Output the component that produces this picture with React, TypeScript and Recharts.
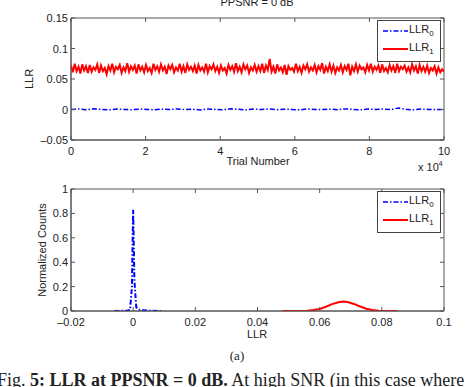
import { LineChart, Line, XAxis, YAxis, Legend, ReferenceArea } from "recharts";

const llr1Trace = [
  0.072, 0.061, 0.075, 0.063, 0.07, 0.059, 0.074, 0.064, 0.071, 0.06,
  0.073, 0.062, 0.069, 0.065, 0.074, 0.06, 0.072, 0.063, 0.068, 0.058,
  0.071, 0.064, 0.075, 0.061, 0.07, 0.066, 0.073, 0.06, 0.069, 0.063,
  0.076, 0.062, 0.071, 0.065, 0.072, 0.059, 0.074, 0.064, 0.07, 0.061,
  0.073, 0.063, 0.068, 0.06, 0.075, 0.065, 0.071, 0.062, 0.074, 0.064,
  0.07, 0.058, 0.072, 0.066, 0.073, 0.061, 0.069, 0.064, 0.075, 0.062,
  0.071, 0.06, 0.074, 0.065, 0.07, 0.063, 0.072, 0.059, 0.073, 0.064,
  0.069, 0.062, 0.075, 0.061, 0.071, 0.066, 0.074, 0.063, 0.07, 0.06,
  0.072, 0.064, 0.068, 0.059, 0.073, 0.065, 0.071, 0.062, 0.076, 0.063,
  0.07, 0.061, 0.074, 0.066, 0.072, 0.06, 0.069, 0.064, 0.073, 0.062,
  0.071, 0.063, 0.075, 0.06, 0.072, 0.065, 0.083, 0.062, 0.07, 0.059,
  0.074, 0.064, 0.069, 0.061, 0.073, 0.057, 0.071, 0.065, 0.068, 0.062,
  0.075, 0.063, 0.07, 0.06, 0.072, 0.066, 0.074, 0.062, 0.069, 0.064,
  0.073, 0.061, 0.071, 0.065, 0.076, 0.059, 0.07, 0.063, 0.074, 0.062,
  0.072, 0.06, 0.069, 0.064, 0.073, 0.061, 0.071, 0.065, 0.075, 0.056,
  0.07, 0.063, 0.074, 0.062, 0.072, 0.066, 0.069, 0.061, 0.073, 0.064,
  0.075, 0.062, 0.07, 0.065, 0.072, 0.06, 0.074, 0.063, 0.068, 0.061,
  0.073, 0.064, 0.071, 0.06, 0.075, 0.063, 0.07, 0.066, 0.072, 0.062,
  0.069, 0.061, 0.074, 0.064, 0.071, 0.059, 0.073, 0.063, 0.07, 0.062,
  0.072, 0.06, 0.068, 0.064, 0.071, 0.059, 0.069, 0.061, 0.066, 0.062,
];

const llr0Trace = [
  0, 0.0008, -0.0004, 0.0012, 0.0002, -0.0006, 0.0009, 0.0001, -0.0003, 0.0007,
  0.0002, -0.0005, 0.0006, 0, 0.001, -0.0002, 0.0004, -0.0007, 0.0008, 0.0001,
  -0.0004, 0.0011, 0.0003, -0.0005, 0.0007, 0, 0.0009, -0.0003, 0.0005, 0.0002,
  -0.0006, 0.0008, 0.0001, -0.0002, 0.0006, -0.0004, 0.001, 0.0003, -0.0005, 0.0007,
  0.0002, 0.0009, -0.0003, 0.0025, 0.0004, -0.0006, 0.0008, 0.0001, -0.0002, 0.0003,
];

const trialTicks = [0, 20000, 40000, 60000, 80000, 100000];
const llrTicks = [-0.05, 0, 0.05, 0.1, 0.15];

// bottom panel: histograms of the two LLRs
const llr0Bins = [-0.006, -0.004, -0.002, -0.001, -0.0004, 0, 0.0004, 0.001, 0.002, 0.004, 0.006, 0.009];
const llr0Counts = [0, 0.001, 0.002, 0.008, 0.2, 0.83, 0.25, 0.03, 0.01, 0.004, 0.002, 0];
const llr1Bins = [0.048, 0.052, 0.056, 0.058, 0.06, 0.062, 0.064, 0.066, 0.0675, 0.069, 0.071, 0.073, 0.075, 0.077, 0.079, 0.082, 0.085];
const llr1Counts = [0, 0.0005, 0.003, 0.008, 0.017, 0.035, 0.056, 0.072, 0.078, 0.073, 0.058, 0.037, 0.019, 0.008, 0.003, 0.001, 0];

const histXTicks = [-0.02, 0, 0.02, 0.04, 0.06, 0.08, 0.1];
const histYTicks = [0, 0.2, 0.4, 0.6, 0.8, 1];

const topStep = 100000 / (llr1Trace.length - 1);
const blueStep = 100000 / (llr0Trace.length - 1);
const llr1Data = llr1Trace.map((v, i) => ({ x: i * topStep, v }));
const llr0Data = llr0Trace.map((v, i) => ({ x: i * blueStep, v }));
const hist0 = llr0Bins.map((x, i) => ({ x, v: llr0Counts[i] }));
const hist1 = llr1Bins.map((x, i) => ({ x, v: llr1Counts[i] }));

const FONT = "'Liberation Sans', Arial, sans-serif";
const AXIS = "#555";
const PLOT_W = 373;
const PLOT_H = 122;

const fmt = (v: number) => (v === 0 ? "0" : v < 0 ? "\u2013" + String(-v) : String(v));

function XTick(props: any) {
  const { x, y, payload, labels } = props;
  const base = y - 6;
  const label = labels ? labels(payload.value) : fmt(payload.value);
  return (
    <g>
      <line x1={x} y1={base} x2={x} y2={base - 4} stroke={AXIS} />
      <line x1={x} y1={base - PLOT_H} x2={x} y2={base - PLOT_H + 4} stroke={AXIS} />
      <text x={x} y={base + 15} textAnchor="middle" fontSize={11} fontFamily={FONT} fill="#222">
        {label}
      </text>
    </g>
  );
}

function YTick(props: any) {
  const { x, y, payload } = props;
  const left = x + 3;
  return (
    <g>
      <line x1={left} y1={y} x2={left + 4} y2={y} stroke={AXIS} />
      <line x1={left + PLOT_W} y1={y} x2={left + PLOT_W - 4} y2={y} stroke={AXIS} />
      <text x={x} y={y + 4} textAnchor="end" fontSize={11} fontFamily={FONT} fill="#222">
        {fmt(payload.value)}
      </text>
    </g>
  );
}

function LegendBox() {
  const row = (top: number, color: string, dash: string | undefined, sub: string) => (
    <div style={{ position: "absolute", left: 5, top, height: 14, display: "flex", alignItems: "center" }}>
      <svg width={25} height={6}>
        <line x1={0} y1={3} x2={25} y2={3} stroke={color} strokeWidth={dash ? 1.5 : 2} strokeDasharray={dash} />
      </svg>
      <span style={{ fontSize: 11, fontFamily: FONT, color: "#222", marginLeft: 1 }}>
        LLR<sub style={{ fontSize: 8 }}>{sub}</sub>
      </span>
    </div>
  );
  return (
    <div style={{ position: "relative", width: 62, height: 40, border: "1px solid #444", background: "#fff" }}>
      {row(3, "#0000ff", "5 2 1.5 2", "0")}
      {row(21, "#ff0000", undefined, "1")}
    </div>
  );
}

const abs = (left: number, top: number, extra: any = {}) => ({
  position: "absolute" as const,
  left,
  top,
  fontFamily: FONT,
  fontSize: 11,
  color: "#222",
  whiteSpace: "nowrap" as const,
  ...extra,
});

export default function App() {
  return (
    <div style={{ position: "absolute", left: 0, top: 0, width: 474, height: 387, overflow: "hidden", background: "#fff" }}>
      <div style={{ position: "absolute", left: 0, top: 0 }}>
        <LineChart width={474} height={175} margin={{ top: 18, right: 30, bottom: 0, left: 0 }}>
          <XAxis
            dataKey="x"
            type="number"
            domain={[0, 100000]}
            ticks={trialTicks}
            tickLine={false}
            tickSize={0}
            tickMargin={6}
            height={35}
            stroke={AXIS}
            tick={<XTick labels={(v: number) => String(v / 10000)} />}
            allowDataOverflow
          />
          <YAxis
            type="number"
            domain={[-0.05, 0.15]}
            ticks={llrTicks}
            tickLine={false}
            tickSize={0}
            tickMargin={3}
            width={71}
            stroke={AXIS}
            tick={<YTick />}
            allowDataOverflow
          />
          <ReferenceArea x1={0} x2={100000} y1={-0.05} y2={0.15} fill="none" stroke={AXIS} />
          <Line data={llr0Data} dataKey="v" stroke="#0000ff" strokeWidth={1.5} strokeDasharray="5 2 1.5 2" dot={false} isAnimationActive={false} name="LLR0" />
          <Line data={llr1Data} dataKey="v" stroke="#ff0000" strokeWidth={2} dot={false} isAnimationActive={false} name="LLR1" />
          <Legend layout="vertical" align="center" verticalAlign="middle" content={<LegendBox />} wrapperStyle={{ left: 377, top: 20, width: 64 }} />
        </LineChart>
      </div>

      <div style={{ position: "absolute", left: 0, top: 180 }}>
        <LineChart width={474} height={165} margin={{ top: 9, right: 30, bottom: 0, left: 0 }}>
          <XAxis
            dataKey="x"
            type="number"
            domain={[-0.02, 0.1]}
            ticks={histXTicks}
            tickLine={false}
            tickSize={0}
            tickMargin={6}
            height={34}
            stroke={AXIS}
            tick={<XTick />}
            allowDataOverflow
          />
          <YAxis
            type="number"
            domain={[0, 1]}
            ticks={histYTicks}
            tickLine={false}
            tickSize={0}
            tickMargin={3}
            width={71}
            stroke={AXIS}
            tick={<YTick />}
            allowDataOverflow
          />
          <ReferenceArea x1={-0.02} x2={0.1} y1={0} y2={1} fill="none" stroke={AXIS} />
          <Line data={hist0} dataKey="v" stroke="#0000ff" strokeWidth={2} strokeDasharray="5 2 1.5 2" dot={false} isAnimationActive={false} name="LLR0" />
          <Line data={hist1} dataKey="v" stroke="#ff0000" strokeWidth={2} dot={false} isAnimationActive={false} name="LLR1" />
          <Legend layout="vertical" align="center" verticalAlign="middle" content={<LegendBox />} wrapperStyle={{ left: 377, top: 11, width: 64 }} />
        </LineChart>
      </div>

      <div style={abs(257, -4, { transform: "translateX(-50%)" })}>PPSNR = 0 dB</div>
      <div style={abs(29, 79, { transform: "translate(-50%,-50%) rotate(-90deg)" })}>LLR</div>
      <div style={abs(258, 155, { transform: "translateX(-50%)" })}>Trial Number</div>
      <div style={abs(418, 160)}>
        x 10<sup style={{ fontSize: 7 }}>4</sup>
      </div>
      <div style={abs(42, 250, { transform: "translate(-50%,-50%) rotate(-90deg)" })}>Normalized Counts</div>
      <div style={abs(257, 328, { transform: "translateX(-50%)" })}>LLR</div>
      <div style={abs(237, 348, { transform: "translateX(-50%)", fontFamily: "'Liberation Serif', serif", fontSize: 13 })}>(a)</div>
      <div style={abs(-3, 370, { fontFamily: "'Liberation Serif', serif", fontSize: 18 })}>
        Fig. <b>5: LLR at PPSNR = 0 dB.</b> At high SNR (in this case where
      </div>
    </div>
  );
}
